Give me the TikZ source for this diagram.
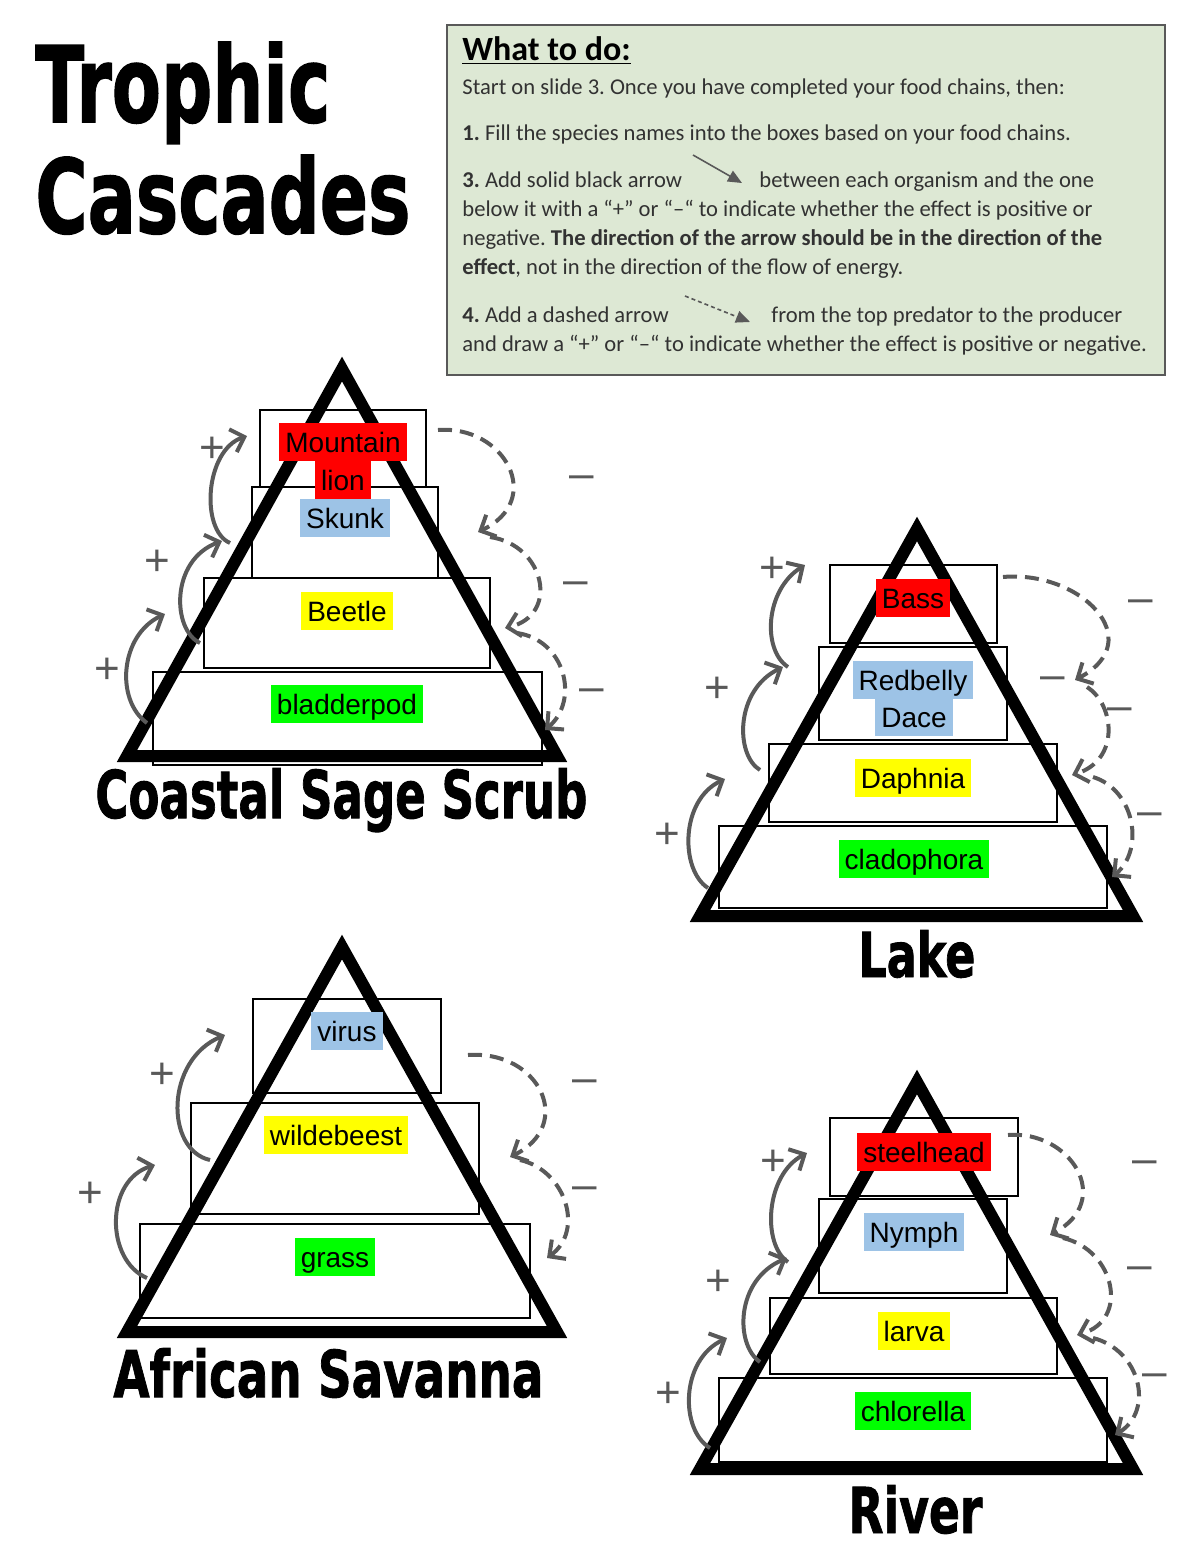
\documentclass[tikz,border=0pt]{standalone}
\usepackage{fontspec}
\setmainfont{Liberation Sans}
\newfontfamily\notefont{Carlito}
\newfontfamily\titlefont{DejaVu Sans}[FakeBold=1.5]
\usetikzlibrary{arrows.meta}
\definecolor{arrowgray}{RGB}{89,89,89}
\definecolor{notegreen}{RGB}{221,232,212}
\definecolor{notetext}{RGB}{50,50,50}
\definecolor{tagred}{RGB}{255,0,0}
\definecolor{tagblue}{RGB}{157,195,230}
\definecolor{tagyellow}{RGB}{255,255,0}
\definecolor{taggreen}{RGB}{0,255,0}
\frenchspacing
\begin{document}
\begin{tikzpicture}[x=0.5pt, y=-0.5pt,
  tier/.style={draw=black, line width=1pt, fill=white},
  pyramid/.style={draw=black, line width=6pt, line join=miter},
  tag/.style={font=\fontsize{14}{16}\selectfont, text height=12.5pt, text depth=2.5pt, inner xsep=3pt, inner ysep=2pt},
  plusarrow/.style={draw=arrowgray, line width=2pt, -{Straight Barb[length=6pt,width=12pt]}},
  minusarrow/.style={plusarrow, dash pattern=on 7pt off 4pt},
  sign/.style={text=arrowgray, font=\fontsize{22}{22}\selectfont, inner sep=0pt, anchor=base},
  bigtitle/.style={inner sep=0pt, anchor=base west},
  note/.style={inner sep=0pt, anchor=base west, text=notetext, font=\notefont\fontsize{11.3}{13}\selectfont}]
\useasboundingbox (0,0) rectangle (1200,1553);

% titles
\node[bigtitle] (trophic) at (35,122) {\resizebox{147.5pt}{40pt}{\titlefont\bfseries Trophic}};
\node[bigtitle] (cascades) at (35,233) {\resizebox{187.5pt}{39pt}{\titlefont\bfseries Cascades}};

% what to do box
\filldraw[draw=arrowgray, fill=notegreen, line width=0.75pt] (447,25) rectangle (1165,375);
\node[note, text=black, font=\notefont\bfseries\fontsize{17}{19}\selectfont] (w0) at (462,60) {\underline{What to do:}};
\node[note] (w1) at (462,94) {Start on slide 3. Once you have completed your food chains, then:};
\node[note] (w2) at (462,140) {\textbf{1.} Fill the species names into the boxes based on your food chains.};
\node[note] (w3) at (462,187) {\textbf{3.} Add solid black arrow};
\node[note] (w3b) at (759,187) {between each organism and the one};
\node[note] (w4) at (462,216) {below it with a “+” or “–“ to indicate whether the effect is positive or};
\node[note] (w5) at (462,245) {negative. \textbf{The direction of the arrow should be in the direction of the}};
\node[note] (w6) at (462,274) {\textbf{effect}, not in the direction of the flow of energy.};
\node[note] (w7) at (462,322) {\textbf{4.} Add a dashed arrow};
\node[note] (w7b) at (771,322) {from the top predator to the producer};
\node[note] (w8) at (462,351) {and draw a “+” or “–“ to indicate whether the effect is positive or negative.};
\coordinate (s-tail) at (693,155);
\coordinate (s-head) at (742,183);
\coordinate (d-tail) at (685,296);
\coordinate (d-head) at (750,322);
\draw[arrowgray, line width=0.8pt, -{Triangle[length=7pt,width=6pt]}] (s-tail) -- (s-head);
\draw[arrowgray, line width=0.8pt, dash pattern=on 2pt off 1.5pt, -{Triangle[length=7pt,width=6pt]}] (d-tail) -- (d-head);

% Coastal Sage Scrub
\draw[tier] (260,410) rectangle (426,487);
\draw[tier] (252,487) rectangle (438,578);
\draw[tier] (204,578) rectangle (490,668);
\draw[tier] (153,672) rectangle (542,765);
\draw[pyramid] (342,369) -- (557,756) -- (127,756) -- cycle;
\node[tag, fill=tagred] (cs1a) at (343,442) {Mountain};
\node[tag, fill=tagred] (cs1b) at (343,480) {lion};
\node[tag, fill=tagblue] (cs2) at (345,518) {Skunk};
\node[tag, fill=tagyellow] (cs3) at (347,611) {Beetle};
\node[tag, fill=taggreen] (cs4) at (347,704) {bladderpod};
\coordinate (cs-u1) at (147,723); \coordinate (cs-v1) at (165,614);
\coordinate (cs-u2) at (200,643); \coordinate (cs-v2) at (222,541);
\coordinate (cs-u3) at (230,543); \coordinate (cs-v3) at (247,436);
\draw[plusarrow] (cs-u1) .. controls (115,700) and (120,635) .. (cs-v1);
\draw[plusarrow] (cs-u2) .. controls (172,630) and (170,560) .. (cs-v2);
\draw[plusarrow] (cs-u3) .. controls (200,530) and (205,450) .. (cs-v3);
\coordinate (cs-p1) at (438,430); \coordinate (cs-q1) at (478,532);
\coordinate (cs-p2) at (490,537); \coordinate (cs-q2) at (505,628);
\coordinate (cs-p3) at (517,633); \coordinate (cs-q3) at (545,730);
\draw[minusarrow] (cs-p1) .. controls (505,425) and (545,500) .. (cs-q1);
\draw[minusarrow] (cs-p2) .. controls (545,545) and (560,615) .. (cs-q2);
\draw[minusarrow] (cs-p3) .. controls (565,640) and (580,700) .. (cs-q3);
\node[sign] (cs-plus1) at (212,462) {+};
\node[sign] (cs-plus2) at (157,575) {+};
\node[sign] (cs-plus3) at (107,683) {+};
\node[sign] (cs-minus1) at (582,488) {–};
\node[sign] (cs-minus2) at (576,594) {–};
\node[sign] (cs-minus3) at (592,701) {–};
\node[bigtitle] (cs-name) at (95,818) {\resizebox{246pt}{25pt}{\titlefont\bfseries Coastal Sage Scrub}};

% Lake
\draw[tier] (830,565) rectangle (997,643);
\draw[tier] (819,647) rectangle (1007,740);
\draw[tier] (769,744) rectangle (1057,822);
\draw[tier] (719,826) rectangle (1107,908);
\draw[pyramid] (917,529) -- (1133,916) -- (700,916) -- cycle;
\node[tag, fill=tagred] (lk1) at (913,598) {Bass};
\node[tag, fill=tagblue] (lk2a) at (913,680) {Redbelly};
\node[tag, fill=tagblue] (lk2b) at (914,717) {Dace};
\node[tag, fill=tagyellow] (lk3) at (913,778) {Daphnia};
\node[tag, fill=taggreen] (lk4) at (914,859) {cladophora};
\coordinate (lk-u1) at (708,888); \coordinate (lk-v1) at (725,779);
\coordinate (lk-u2) at (760,770); \coordinate (lk-v2) at (783,667);
\coordinate (lk-u3) at (788,667); \coordinate (lk-v3) at (805,565);
\draw[plusarrow] (lk-u1) .. controls (680,870) and (680,800) .. (lk-v1);
\draw[plusarrow] (lk-u2) .. controls (735,755) and (735,690) .. (lk-v2);
\draw[plusarrow] (lk-u3) .. controls (762,650) and (765,590) .. (lk-v3);
\coordinate (lk-p1) at (1003,577); \coordinate (lk-q1) at (1075,680);
\coordinate (lk-p2) at (1087,687); \coordinate (lk-q2) at (1072,775);
\coordinate (lk-p3) at (1093,777); \coordinate (lk-q3) at (1112,877);
\draw[minusarrow] (lk-p1) .. controls (1080,570) and (1150,640) .. (lk-q1);
\draw[minusarrow] (lk-p2) .. controls (1115,705) and (1120,760) .. (lk-q2);
\draw[minusarrow] (lk-p3) .. controls (1135,790) and (1145,850) .. (lk-q3);
\node[sign] (lk-plus1) at (772,582) {+};
\node[sign] (lk-plus2) at (717,702) {+};
\node[sign] (lk-plus3) at (667,848) {+};
\node[sign] (lk-minus1) at (1141,612) {–};
\node[sign] (lk-minus2) at (1053,689) {–};
\node[sign] (lk-minus3) at (1120,720) {–};
\node[sign] (lk-minus4) at (1150,825) {–};
\node[bigtitle] (lk-name) at (858,977) {\resizebox{58.5pt}{23.5pt}{\titlefont\bfseries Lake}};

% African Savanna
\draw[tier] (253,999) rectangle (441,1093);
\draw[tier] (191,1103) rectangle (479,1214);
\draw[tier] (140,1224) rectangle (530,1318);
\draw[pyramid] (342,947) -- (557,1332) -- (127,1332) -- cycle;
\node[tag, fill=tagblue] (sv1) at (347,1031) {virus};
\node[tag, fill=tagyellow] (sv2) at (336,1135) {wildebeest};
\node[tag, fill=taggreen] (sv3) at (335,1257) {grass};
\coordinate (sv-u1) at (147,1278); \coordinate (sv-v1) at (155,1165);
\coordinate (sv-u2) at (210,1160); \coordinate (sv-v2) at (225,1035);
\draw[plusarrow] (sv-u1) .. controls (105,1260) and (105,1180) .. (sv-v1);
\draw[plusarrow] (sv-u2) .. controls (165,1150) and (165,1060) .. (sv-v2);
\coordinate (sv-p1) at (468,1055); \coordinate (sv-q1) at (510,1157);
\coordinate (sv-p2) at (520,1160); \coordinate (sv-q2) at (547,1258);
\draw[minusarrow] (sv-p1) .. controls (540,1050) and (575,1125) .. (sv-q1);
\draw[minusarrow] (sv-p2) .. controls (565,1170) and (585,1230) .. (sv-q2);
\node[sign] (sv-plus1) at (162,1088) {+};
\node[sign] (sv-plus2) at (90,1207) {+};
\node[sign] (sv-minus1) at (585,1092) {–};
\node[sign] (sv-minus2) at (585,1199) {–};
\node[bigtitle] (sv-name) at (113,1397) {\resizebox{215pt}{24.5pt}{\titlefont\bfseries African Savanna}};

% River
\draw[tier] (830,1118) rectangle (1018,1196);
\draw[tier] (819,1199) rectangle (1007,1293);
\draw[tier] (770,1298) rectangle (1057,1374);
\draw[tier] (719,1378) rectangle (1107,1462);
\draw[pyramid] (917,1082) -- (1133,1469) -- (700,1469) -- cycle;
\node[tag, fill=tagred] (rv1) at (924,1152) {steelhead};
\node[tag, fill=tagblue] (rv2) at (914,1232) {Nymph};
\node[tag, fill=tagyellow] (rv3) at (914,1331) {larva};
\node[tag, fill=taggreen] (rv4) at (913,1411) {chlorella};
\coordinate (rv-u1) at (710,1448); \coordinate (rv-v1) at (727,1338);
\coordinate (rv-u2) at (760,1362); \coordinate (rv-v2) at (787,1258);
\coordinate (rv-u3) at (788,1262); \coordinate (rv-v3) at (807,1153);
\draw[plusarrow] (rv-u1) .. controls (680,1430) and (680,1360) .. (rv-v1);
\draw[plusarrow] (rv-u2) .. controls (735,1345) and (735,1280) .. (rv-v2);
\draw[plusarrow] (rv-u3) .. controls (762,1245) and (765,1175) .. (rv-v3);
\coordinate (rv-p1) at (1008,1135); \coordinate (rv-q1) at (1050,1235);
\coordinate (rv-p2) at (1063,1238); \coordinate (rv-q2) at (1077,1335);
\coordinate (rv-p3) at (1093,1338); \coordinate (rv-q3) at (1115,1435);
\draw[minusarrow] (rv-p1) .. controls (1070,1130) and (1115,1200) .. (rv-q1);
\draw[minusarrow] (rv-p2) .. controls (1115,1250) and (1130,1320) .. (rv-q2);
\draw[minusarrow] (rv-p3) .. controls (1140,1350) and (1155,1410) .. (rv-q3);
\node[sign] (rv-plus1) at (773,1175) {+};
\node[sign] (rv-plus2) at (718,1295) {+};
\node[sign] (rv-plus3) at (668,1407) {+};
\node[sign] (rv-minus1) at (1145,1173) {–};
\node[sign] (rv-minus2) at (1140,1279) {–};
\node[sign] (rv-minus3) at (1155,1386) {–};
\node[bigtitle] (rv-name) at (848,1533) {\resizebox{67pt}{24pt}{\titlefont\bfseries River}};

\end{tikzpicture}
\end{document}
